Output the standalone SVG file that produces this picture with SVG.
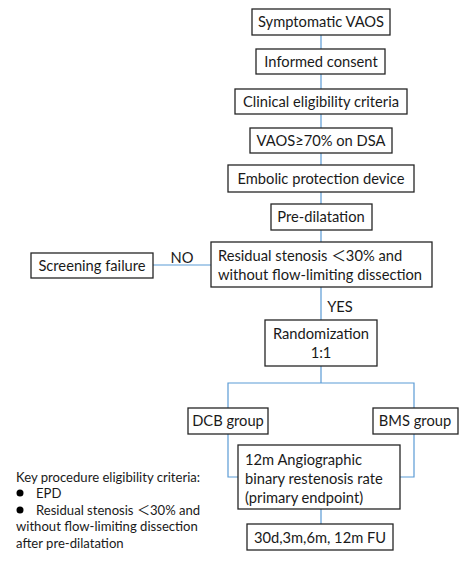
<svg xmlns="http://www.w3.org/2000/svg" width="474" height="564" viewBox="0 0 474 564">
<style>
.box{fill:#fff;stroke:#262626;stroke-width:1.3}
.t{font-family:Lato,"Liberation Sans","Noto Sans CJK SC",sans-serif;font-size:14.7px;fill:#1a1a1a}
.k{font-family:Lato,"Liberation Sans","Noto Sans CJK SC",sans-serif;font-size:13.1px;fill:#1a1a1a}
.c{fill:none;stroke:#5b9bd5;stroke-width:1.2}
</style>
<rect width="474" height="564" fill="#fff"/>
<g id="connectors">
<path class="c" d="M321 35V49M321 74V89M321 114V128M321 153V165M321 192V204M321 230V242M321 287V320M321 366V383M228 408V383H414V408M228 434V477H238M414 434V477H400M321 509V524M153 265H211"/>
</g>
<g id="n1"><rect class="box" x="252" y="9" width="138" height="26"/><text class="t" x="321" y="27" text-anchor="middle">Symptomatic VAOS</text></g>
<g id="n2"><rect class="box" x="256" y="49" width="129" height="25"/><text class="t" x="321" y="67" text-anchor="middle">Informed consent</text></g>
<g id="n3"><rect class="box" x="235" y="89" width="172" height="25"/><text class="t" x="321" y="107" text-anchor="middle">Clinical eligibility criteria</text></g>
<g id="n4"><rect class="box" x="250" y="128" width="142" height="25"/><text class="t" x="321" y="146" text-anchor="middle">VAOS≥70% on DSA</text></g>
<g id="n5"><rect class="box" x="228" y="165" width="186" height="27"/><text class="t" x="321" y="184" text-anchor="middle">Embolic protection device</text></g>
<g id="n6"><rect class="box" x="271" y="204" width="101" height="26"/><text class="t" x="321" y="222" text-anchor="middle">Pre-dilatation</text></g>
<g id="n7"><rect class="box" x="211" y="242" width="221" height="45"/><text class="t" x="218" y="261">Residual stenosis ＜30% and</text><text class="t" x="218" y="280">without flow-limiting dissection</text></g>
<g id="n8"><rect class="box" x="31" y="253" width="122" height="25"/><text class="t" x="92" y="271" text-anchor="middle">Screening failure</text></g>
<text class="t" x="182" y="263" text-anchor="middle">NO</text>
<text class="t" x="340" y="312" text-anchor="middle">YES</text>
<g id="n9"><rect class="box" x="265" y="320" width="112" height="46"/><text class="t" x="321" y="339" text-anchor="middle">Randomization</text><text class="t" x="321" y="358" text-anchor="middle">1:1</text></g>
<g id="n10"><rect class="box" x="188" y="408" width="80" height="26"/><text class="t" x="228" y="426" text-anchor="middle">DCB group</text></g>
<g id="n11"><rect class="box" x="373" y="408" width="85" height="26"/><text class="t" x="415" y="426" text-anchor="middle">BMS group</text></g>
<g id="n12"><rect class="box" x="238" y="445" width="162" height="64"/><text class="t" x="245" y="465">12m Angiographic</text><text class="t" x="245" y="484">binary restenosis rate</text><text class="t" x="245" y="503">(primary endpoint)</text></g>
<g id="n13"><rect class="box" x="247" y="524" width="146" height="26"/><text class="t" x="320" y="543" text-anchor="middle">30d,3m,6m, 12m FU</text></g>
<g id="key">
<text class="k" x="16" y="482">Key procedure eligibility criteria:</text>
<circle cx="20" cy="493" r="3.5" fill="#000"/>
<text class="k" x="36" y="498">EPD</text>
<circle cx="20" cy="510" r="3.5" fill="#000"/>
<text class="k" x="36" y="515">Residual stenosis ＜30% and</text>
<text class="k" x="16" y="531">without flow-limiting dissection</text>
<text class="k" x="16" y="548">after pre-dilatation</text>
</g>
</svg>
